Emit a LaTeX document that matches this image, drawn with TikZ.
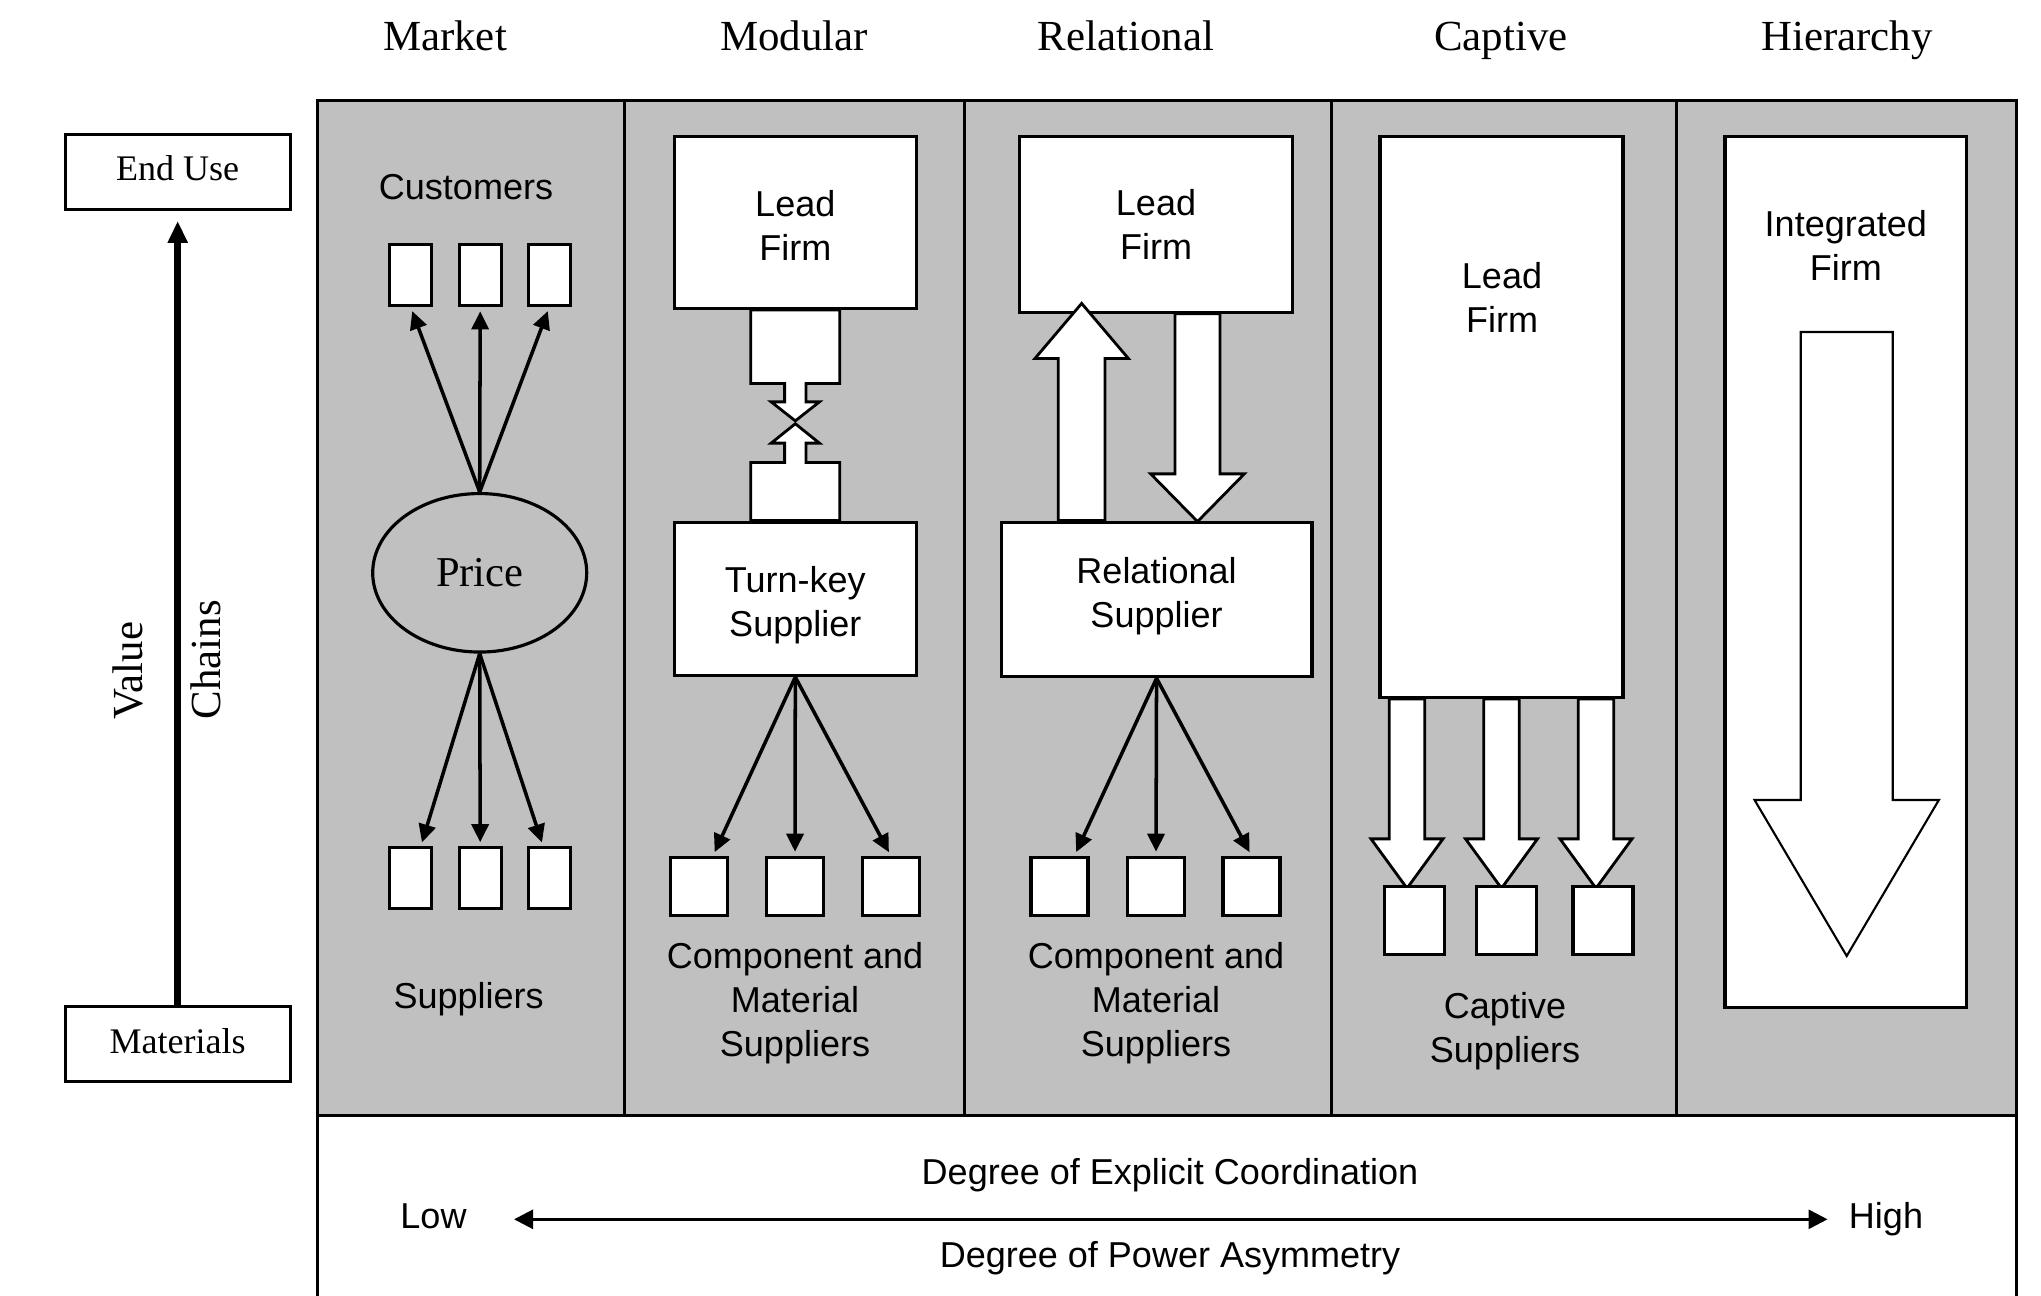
\documentclass[tikz,border=0pt]{standalone}
\usepackage{fontspec}
\setmainfont{Liberation Serif}
\setsansfont{Liberation Sans}
\usetikzlibrary{positioning,arrows.meta,shapes.geometric}
\definecolor{panelgray}{HTML}{C0C0C0}

\begin{document}
\begin{tikzpicture}[
    font=\sffamily\fontsize{10.25}{12.5}\selectfont,
    >={Triangle[length=1.8mm,width=1.7mm]},
    panel/.style ={draw, fill=panelgray, line width=0.9pt, inner sep=0pt,
                   minimum height=10.154cm},
    box/.style   ={draw, fill=white, line width=0.9pt, inner sep=0pt, align=center},
    unit/.style  ={box, minimum width=0.42cm, minimum height=0.61cm},
    comp/.style  ={box, minimum width=0.57cm, minimum height=0.58cm},
    capt/.style  ={box, minimum width=0.60cm, minimum height=0.68cm},
    head/.style  ={font=\rmfamily\fontsize{12.2}{14}\selectfont, anchor=base},
    side/.style  ={font=\rmfamily\fontsize{12.2}{14}\selectfont, rotate=90,
                   anchor=base west, inner sep=0pt},
    serif/.style ={font=\rmfamily\fontsize{10.25}{12.5}\selectfont},
    lbl/.style   ={align=center, inner sep=0pt},
    link/.style  ={->, line width=1pt, shorten >=0.4mm},
    blk/.style   ={draw, fill=white, line width=0.8pt, line join=miter},
  ]
  \useasboundingbox (0,0) rectangle (20.41,12.95);

  % ------------------------------------------------------------ panels ---
  \node[panel, minimum width=3.072cm] (mkt) at (4.712,6.871) {};
  \node[panel, minimum width=3.398cm] (mod) at (7.947,6.871) {};
  \node[panel, minimum width=3.670cm] (rel) at (11.481,6.871) {};
  \node[panel, minimum width=3.450cm] (cap) at (15.041,6.871) {};
  \node[panel, minimum width=3.397cm] (hie) at (18.4645,6.871) {};
  \node[draw, fill=white, line width=0.9pt, inner sep=0pt,
        minimum width=16.987cm, minimum height=2.294cm] (scale) at (11.6695,0.647) {};

  % ----------------------------------------------------------- headers ---
  \node[head] (hmkt) at (4.45,12.44)  {Market};
  \node[head] (hmod) at (7.94,12.44)  {Modular};
  \node[head] (hrel) at (11.26,12.44) {Relational};
  \node[head] (hcap) at (15.01,12.44) {Captive};
  \node[head] (hhie) at (18.47,12.44) {Hierarchy};

  % -------------------------------------------------------- value chain ---
  \node[box, serif, minimum width=2.248cm, minimum height=0.751cm,
        text depth=0.8mm] (enduse) at (1.777,11.2315) {End Use};
  \node[box, serif, minimum width=2.248cm, minimum height=0.751cm,
        text depth=0.5mm] (materials) at (1.777,2.5105) {Materials};
  \draw[line width=2pt, -{Triangle[length=2.2mm,width=1.9mm]}, shorten >=1mm]
        (materials) -- (enduse);
  \node[side] (value)  at (1.43,5.75) {Value};
  \node[side] (chains) at (2.20,5.75) {Chains};

  % ------------------------------------------------------------ market ---
  \node[lbl] (customers) at (4.66,11.08) {Customers};
  \node[unit] (c1) at (4.108,10.197) {};
  \node[unit] (c2) at (4.802,10.197) {};
  \node[unit] (c3) at (5.492,10.197) {};
  \node[draw, ellipse, line width=0.9pt, inner sep=0pt, minimum width=2.14cm,
        minimum height=1.585cm, font=\rmfamily\fontsize{12.1}{14}\selectfont]
        (price) at (4.797,7.222) {Price};
  \node[unit] (s1) at (4.108,4.167) {};
  \node[unit] (s2) at (4.802,4.167) {};
  \node[unit] (s3) at (5.492,4.167) {};
  \node[lbl] (suppliers) at (4.686,2.955) {Suppliers};

  \foreach \i in {1,2,3}
    \draw[link] (price.north) -- (c\i.south);
  \draw[link] (price.south) -- ([xshift=1mm]s1.north);
  \draw[link] (price.south) -- (s2.north);
  \draw[link] (price.south) -- ([xshift=-0.6mm]s3.north);

  % ----------------------------------------------------------- modular ---
  \node[box, minimum width=2.417cm, minimum height=1.714cm] (modfirm)
        at (7.953,10.724) {};
  \node[lbl] at ([yshift=-0.25mm]modfirm.center) {Lead\\Firm};
  \node[box, minimum width=2.417cm, minimum height=1.533cm] (turnkey)
        at (7.953,6.9615) {};
  \node[lbl] at ([yshift=-0.65mm]turnkey.center) {Turn-key\\Supplier};
  % interlocking link
  \draw[blk] ([xshift=-4.45mm]modfirm.south) -- ++(0,-0.737) -- ++(0.338,0)
        -- ++(0,-0.183) -- ++(-0.134,0) -- ++(0.241,-0.19) -- ++(0.241,0.19)
        -- ++(-0.134,0) -- ++(0,0.183) -- ++(0.338,0) -- ++(0,0.737) -- cycle;
  \draw[blk] ([xshift=-4.45mm]turnkey.north) -- ++(0,0.582) -- ++(0.338,0)
        -- ++(0,0.193) -- ++(-0.134,0) -- ++(0.241,0.194) -- ++(0.241,-0.194)
        -- ++(-0.134,0) -- ++(0,-0.193) -- ++(0.338,0) -- ++(0,-0.582) -- cycle;
  \node[comp] (m1) at (6.99,4.087) {};
  \node[comp] (m2) at (7.95,4.087) {};
  \node[comp] (m3) at (8.908,4.087) {};
  \draw[link] (turnkey.south) -- ([xshift=1.4mm]m1.north);
  \draw[link] (turnkey.south) -- (m2.north);
  \draw[link] (turnkey.south) -- (m3.north);
  \node[lbl] (modcomp) at (7.95,2.92) {Component and\\Material\\Suppliers};

  % -------------------------------------------------------- relational ---
  \node[box, minimum width=2.73cm, minimum height=1.753cm] (relfirm)
        at (11.56,10.7045) {Lead\\Firm};
  \node[box, minimum width=3.107cm, minimum height=1.545cm] (relsup)
        at (11.5655,6.9555) {};
  \node[lbl] at ([yshift=0.3mm]relsup.center) {Relational\\Supplier};
  \draw[blk] ([xshift=-9.825mm]relsup.north) -- ++(0,1.622) -- ++(-0.233,0)
        -- ++(0.4665,0.55) -- ++(0.4665,-0.55) -- ++(-0.233,0) -- ++(0,-1.622) -- cycle;
  \draw[blk] ([xshift=1.9mm]relfirm.south) -- ++(0,-1.601) -- ++(-0.243,0)
        -- ++(0.468,-0.477) -- ++(0.468,0.477) -- ++(-0.243,0) -- ++(0,1.601) -- cycle;
  \node[comp] (r1) at (10.595,4.087) {};
  \node[comp] (r2) at (11.56,4.087) {};
  \node[comp] (r3) at (12.515,4.087) {};
  \draw[link] (relsup.south) -- ([xshift=1.5mm]r1.north);
  \draw[link] (relsup.south) -- (r2.north);
  \draw[link] (relsup.south) -- (r3.north);
  \node[lbl] (relcomp) at (11.56,2.92) {Component and\\Material\\Suppliers};

  % ----------------------------------------------------------- captive ---
  \node[box, minimum width=2.43cm, minimum height=5.606cm] (capfirm)
        at (15.015,8.778) {};
  \node[lbl] (capname) at (15.02,9.976) {Lead\\Firm};
  \foreach \sx in {-11.22,-1.77,7.68}
    \draw[blk] ([xshift=\sx mm]capfirm.south) -- ++(0,-1.398) -- ++(-0.183,0)
        -- ++(0.36,-0.494) -- ++(0.36,0.494) -- ++(-0.183,0) -- ++(0,1.398) -- cycle;
  \node[capt] (k1) at (14.144,3.745) {};
  \node[capt] (k2) at (15.067,3.745) {};
  \node[capt] (k3) at (16.03,3.745) {};
  \node[lbl] (captsup) at (15.05,2.64) {Captive\\Suppliers};

  % --------------------------------------------------------- hierarchy ---
  \node[box, minimum width=2.418cm, minimum height=8.704cm] (intfirm)
        at (18.459,7.229) {};
  \node[lbl] (intname) at (18.458,10.495) {Integrated\\Firm};
  \draw[blk, line width=0.6pt] (18.007,9.63) -- (18.007,4.95) -- (17.5455,4.95)
        -- (18.467,3.39) -- (19.3885,4.95) -- (18.927,4.95) -- (18.927,9.63) -- cycle;

  % ------------------------------------------------------------- scale ---
  \node[lbl] (coord) at (11.70,1.195) {Degree of Explicit Coordination};
  \node[lbl] (power) at (11.70,0.37)  {Degree of Power Asymmetry};
  \node[lbl, anchor=base] (low)  at (4.335,0.662) {Low};
  \node[lbl, anchor=base] (high) at (18.86,0.662) {High};
  \draw[<->, >={Triangle[length=1.9mm,width=1.9mm]}, line width=0.8pt,
        shorten <=4.68mm, shorten >=2.07mm]
        ([yshift=0.95mm]low.base east) -- ([yshift=0.95mm]high.base west);

\end{tikzpicture}
\end{document}
